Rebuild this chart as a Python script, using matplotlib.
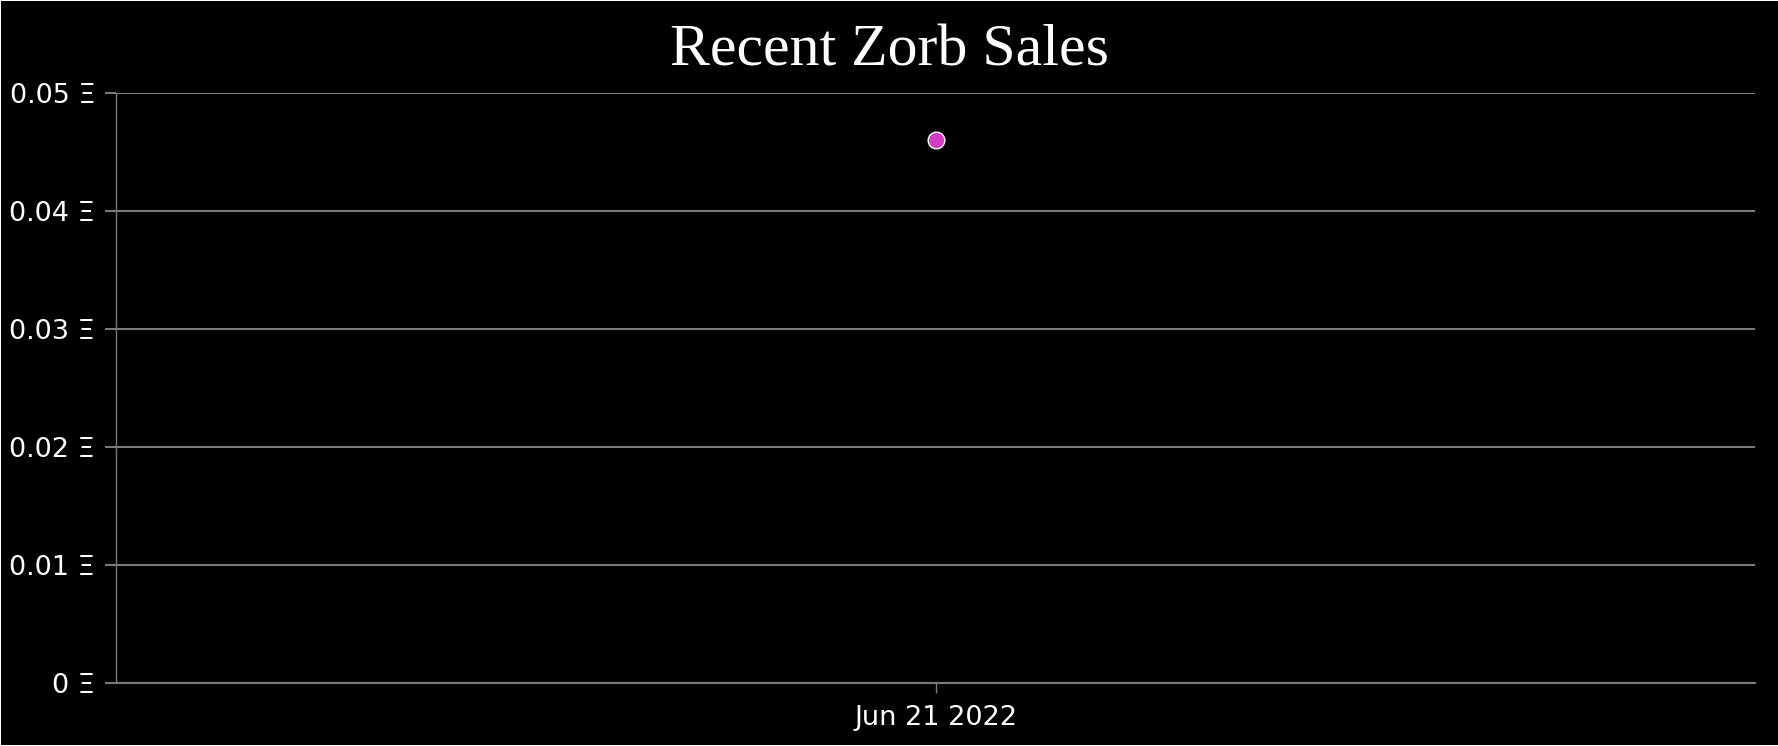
import datetime as dt
import matplotlib
matplotlib.use("Agg")
import matplotlib.pyplot as plt
import matplotlib.dates as mdates
from matplotlib.patches import Rectangle

# sale data
sale_dates = [dt.datetime(2022, 6, 21)]
sale_prices = [0.046]
y_ticks = [0, 0.01, 0.02, 0.03, 0.04, 0.05]
y_labels = ["0 Ξ", "0.01 Ξ", "0.02 Ξ", "0.03 Ξ", "0.04 Ξ", "0.05 Ξ"]
title = "Recent Zorb Sales"

W, H = 1778, 746
fig = plt.figure(figsize=(W / 100, H / 100), dpi=100, facecolor="white")
# thin light edge on left/top/bottom like the source screenshot
fig.patches.append(Rectangle((1 / W, 1 / H), 1 - 1 / W, 1 - 2 / H,
                             transform=fig.transFigure, facecolor="black",
                             edgecolor="none", zorder=-10))

ax = fig.add_axes([116 / W, 63 / H, (1755 - 116) / W, (683 - 93) / H])
ax.set_facecolor("black")

grid_col = "#7a7a7a"
ax.scatter(sale_dates, sale_prices, s=12 ** 2, color="#d43cc4",
           edgecolors="white", linewidths=1.0, zorder=5, clip_on=False)

ax.set_ylim(0, 0.05)
ax.set_yticks(y_ticks)
ax.set_yticklabels(y_labels)
ax.grid(axis="y", color=grid_col, linewidth=1.5)
ax.set_axisbelow(True)

d0 = sale_dates[0]
ax.set_xlim(d0 - dt.timedelta(days=1), d0 + dt.timedelta(days=1))
ax.set_xticks(sale_dates)
ax.xaxis.set_major_formatter(mdates.DateFormatter("%b %d %Y"))

for s in ["top", "right"]:
    ax.spines[s].set_visible(False)
ax.spines["left"].set_color(grid_col)
ax.spines["left"].set_linewidth(1.0)
ax.spines["bottom"].set_color(grid_col)
ax.spines["bottom"].set_linewidth(1.5)

ax.tick_params(axis="y", colors=grid_col, labelcolor="white", length=8,
               width=1.5, pad=7, labelsize=19.5)
ax.tick_params(axis="x", colors=grid_col, labelcolor="white", length=7,
               width=1.0, pad=9, labelsize=19.5)

fig.text(0.5, 1 - 65 / H, title, ha="center", va="baseline", color="white",
         fontsize=43, family="Liberation Serif")

fig.savefig("out.png", dpi=100, facecolor=fig.get_facecolor())
